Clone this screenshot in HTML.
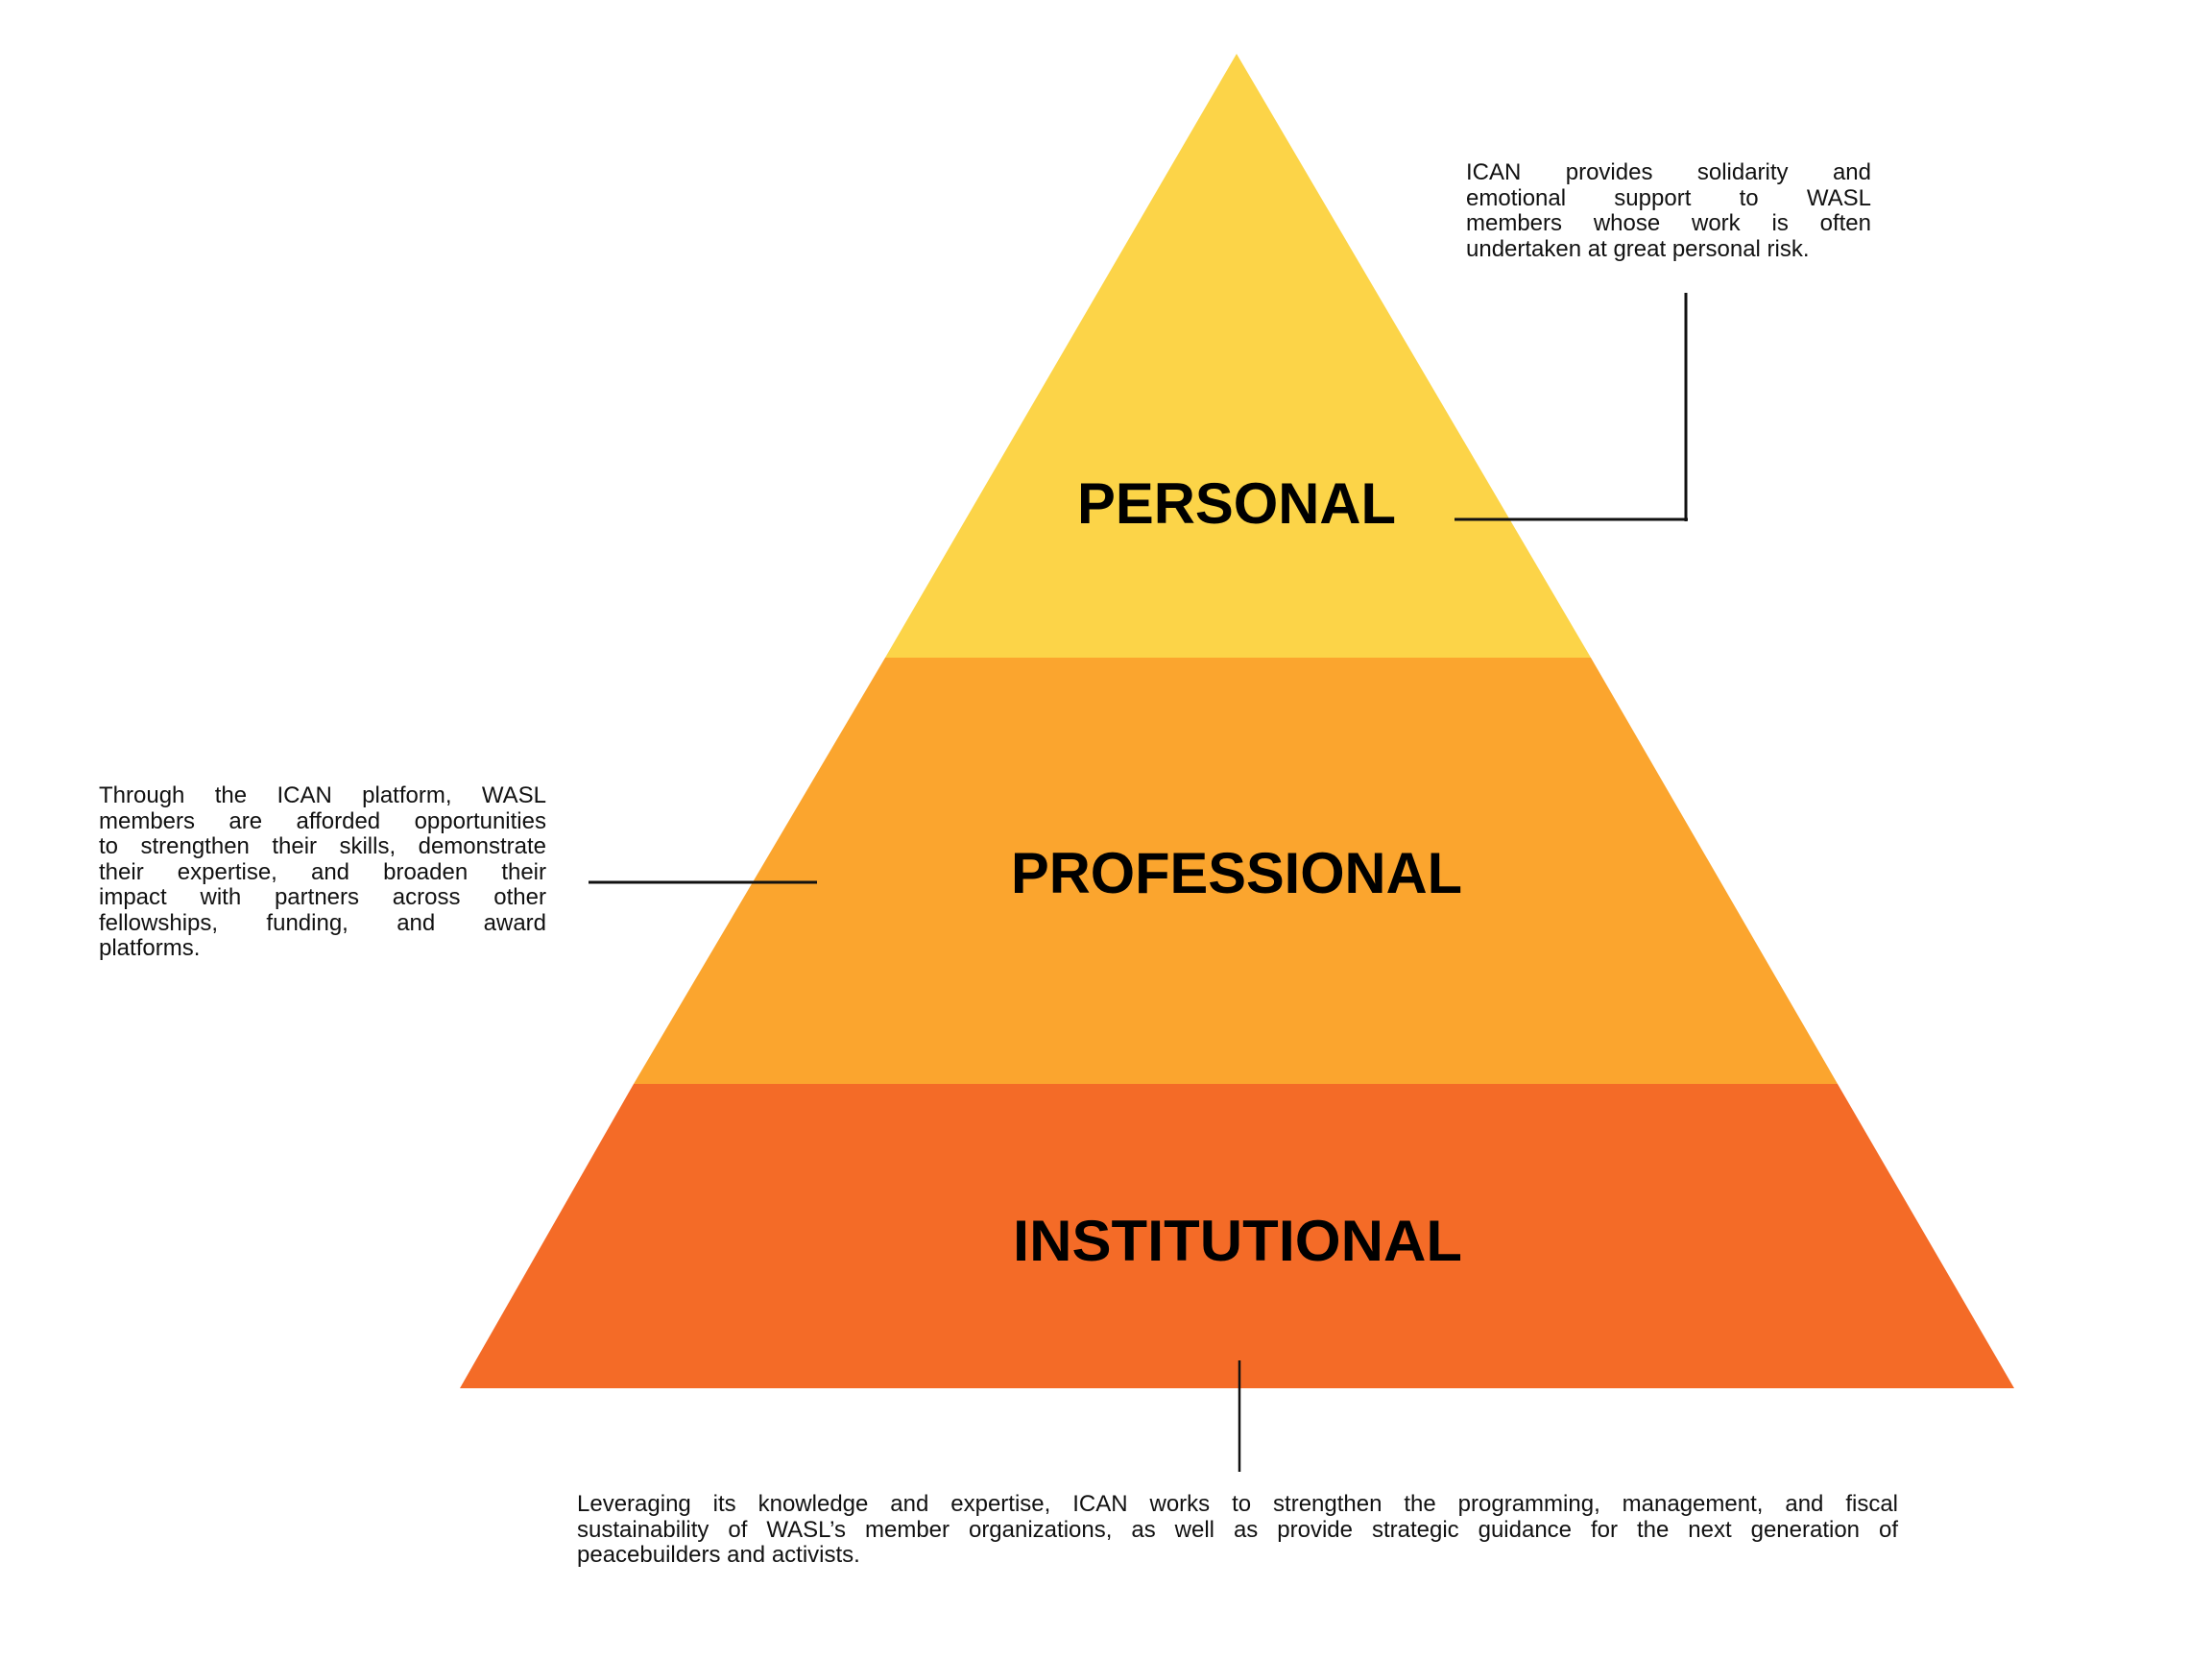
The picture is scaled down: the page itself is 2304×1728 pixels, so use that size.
<!DOCTYPE html>
<html><head><meta charset="utf-8"><style>
html,body{margin:0;padding:0;background:#fff;}
body{width:2304px;height:1728px;position:relative;overflow:hidden;font-family:"Liberation Sans",sans-serif;color:#111;}
.t{position:absolute;font-size:24px;line-height:26.5px;}
.t div{text-align:justify;text-align-last:justify;white-space:nowrap;}
.t div.l{text-align-last:left;}
</style></head><body>
<svg width="2304" height="1728" style="position:absolute;left:0;top:0">
<polygon points="1288,56 922,685 1657,685" fill="#FCD448"/>
<polygon points="922,685 1657,685 1914,1129 660,1129" fill="#FBA52E"/>
<polygon points="660,1129 1914,1129 2098,1446 479,1446" fill="#F46B27"/>
<g font-family="Liberation Sans, sans-serif" font-weight="bold" font-size="60" fill="#000" text-anchor="middle">
<text x="1288" y="545" textLength="332" lengthAdjust="spacingAndGlyphs">PERSONAL</text>
<text x="1288" y="930" textLength="470" lengthAdjust="spacingAndGlyphs">PROFESSIONAL</text>
<text x="1289" y="1313" textLength="468" lengthAdjust="spacingAndGlyphs">INSTITUTIONAL</text>
</g>
<g stroke="#111" fill="none">
<line x1="1515" y1="541" x2="1758" y2="541" stroke-width="3"/>
<line x1="1756" y1="305" x2="1756" y2="543" stroke-width="3"/>
<line x1="613" y1="919" x2="851" y2="919" stroke-width="3"/>
<line x1="1291" y1="1417" x2="1291" y2="1533" stroke-width="2.5"/>
</g>
</svg>
<div class="t" style="left:1527px;top:167px;width:422px;">
<div>ICAN provides solidarity and</div>
<div>emotional support to WASL</div>
<div>members whose work is often</div>
<div class="l">undertaken at great personal risk.</div>
</div>
<div class="t" style="left:103px;top:816px;width:466px;">
<div>Through the ICAN platform, WASL</div>
<div>members are afforded opportunities</div>
<div>to strengthen their skills, demonstrate</div>
<div>their expertise, and broaden their</div>
<div>impact with partners across other</div>
<div>fellowships, funding, and award</div>
<div class="l">platforms.</div>
</div>
<div class="t" style="left:601px;top:1554px;width:1376px;">
<div>Leveraging its knowledge and expertise, ICAN works to strengthen the programming, management, and fiscal</div>
<div>sustainability of WASL’s member organizations, as well as provide strategic guidance for the next generation of</div>
<div class="l">peacebuilders and activists.</div>
</div>
</body></html>
